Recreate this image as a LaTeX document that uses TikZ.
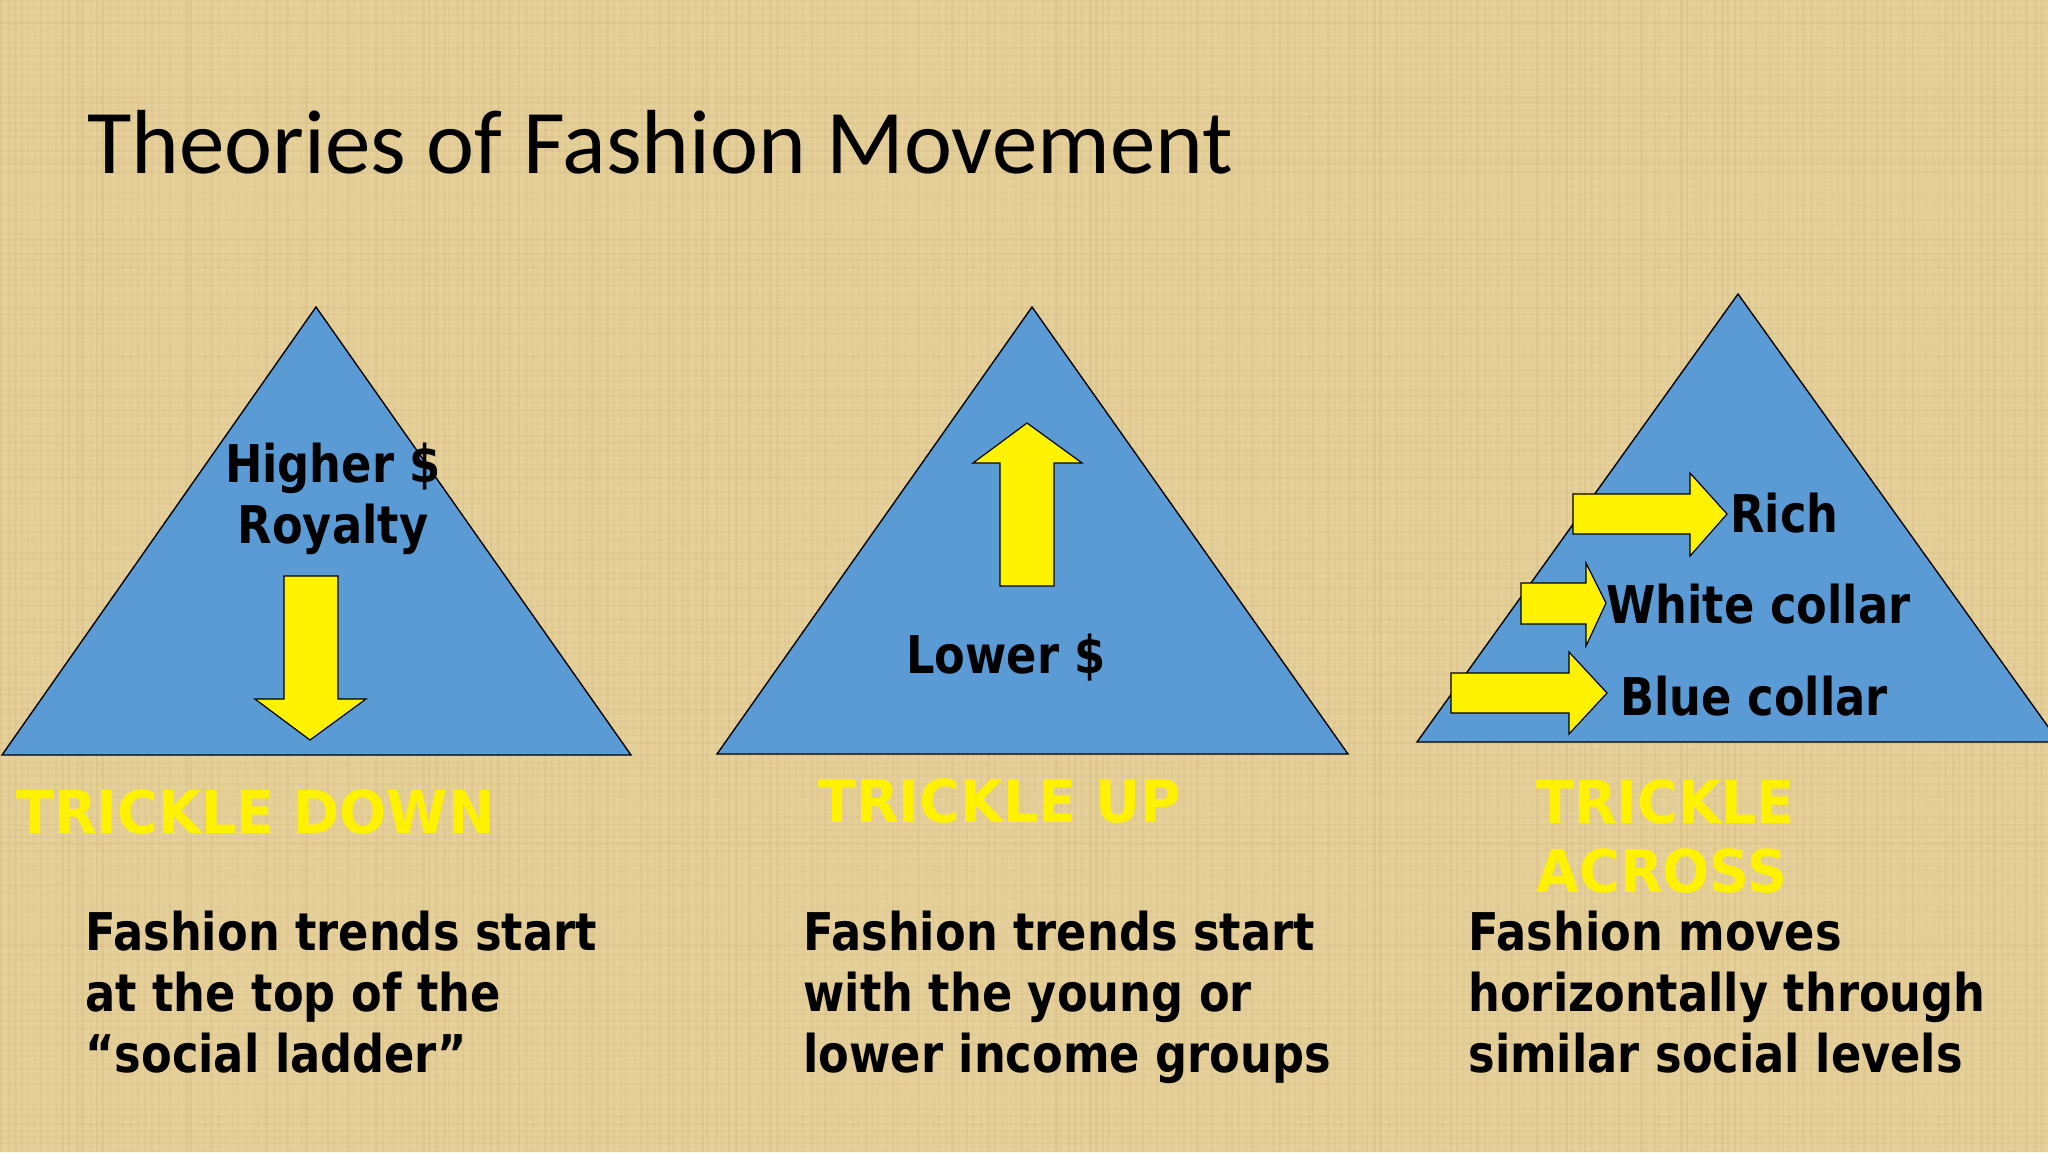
\documentclass[tikz,border=0pt]{standalone}
\usepackage{fontspec}
\setmainfont{Carlito}
\newfontfamily\boldsans[FakeStretch=0.86]{DejaVu Sans}
\newfontfamily\widesans[FakeStretch=0.94]{DejaVu Sans}
\usetikzlibrary{positioning}

\definecolor{parchment}{HTML}{E6D09A}
\definecolor{fibre}{HTML}{C4A868}
\definecolor{pyramid}{HTML}{5B9BD5}

\begin{document}
\begin{tikzpicture}[x=0.5pt, y=-0.5pt,
    tri/.style={fill=pyramid, draw=black, line width=0.7pt, line join=miter},
    blockarrow/.style={fill=yellow, draw=black, line width=0.6pt},
    level/.style={font=\boldsans\bfseries\fontsize{26pt}{30.5pt}\selectfont, inner sep=0pt},
    theory/.style={font=\widesans\bfseries\fontsize{29.5pt}{34.5pt}\selectfont, text=yellow, inner sep=0pt, align=left},
    body/.style={font=\boldsans\bfseries\fontsize{26pt}{30.5pt}\selectfont, inner sep=0pt, align=left}]
    \clip (0,0) rectangle (2048,1152);
    % background
    \fill[parchment] (0,0) rectangle (2048,1152);
    \pgfmathsetseed{7}
    \foreach \i in {0,...,300} {
        \pgfmathsetmacro\op{0.05+0.15*rnd}
        \draw[fibre, opacity=\op, line width=1.2pt] (\i*6.8+3*rnd,0) -- ++(0,1152);
    }
    \foreach \j in {0,...,170} {
        \pgfmathsetmacro\op{0.04+0.12*rnd}
        \draw[fibre, opacity=\op, line width=1.2pt] (0,\j*6.8+3*rnd) -- ++(2048,0);
    }

    \node[anchor=base west, inner sep=0pt, font=\fontsize{45.5pt}{50pt}\selectfont] (title) at (87,173) {Theories of Fashion Movement};

    % pyramids
    \draw[tri] (316,307) -- (631,755) -- (2,755) -- cycle;
    \draw[tri] (1032,307) -- (1348,754) -- (717,754) -- cycle;
    \draw[tri] (1738,294) -- (2059,742) -- (1417,742) -- cycle;

    % trickle down
    \node[level, align=center, anchor=base] (higher) at (333,543) {Higher \$\\Royalty};
    \draw[blockarrow] (284,576) -- (338,576) -- (338,699) -- (366,699) -- (310,740)
        -- (255,699) -- (284,699) -- cycle;

    % trickle up
    \draw[blockarrow] (1000,586) -- (1054,586) -- (1054,463) -- (1082,463) -- (1027,423)
        -- (973,463) -- (1000,463) -- cycle;
    \node[level, anchor=base west] (lower) at (906,673) {Lower \$};

    % trickle across
    \draw[blockarrow] (1573,494) -- (1690,494) -- (1690,473) -- (1727,514) -- (1690,556)
        -- (1690,534) -- (1573,534) -- cycle;
    \draw[blockarrow] (1521,583) -- (1586,583) -- (1586,563) -- (1606,603) -- (1586,646)
        -- (1586,624) -- (1521,624) -- cycle;
    \draw[blockarrow] (1451,673) -- (1569,673) -- (1569,652) -- (1607,693) -- (1569,734)
        -- (1569,713) -- (1451,713) -- cycle;
    \node[level, anchor=base west] (rich) at (1730,532) {Rich};
    \node[level, anchor=base west] (white) at (1606,623) {White collar};
    \node[level, anchor=base west] (blue) at (1620,715) {Blue collar};

    % theory names
    \node[theory, anchor=base west] (down) at (16,833) {TRICKLE DOWN};
    \node[theory, anchor=base west] (up) at (818,822) {TRICKLE UP};
    \node[theory, anchor=base west] (across) at (1536,892) {TRICKLE\\ACROSS};

    % descriptions
    \node[body, anchor=base west] (downtxt) at (85,1072) {Fashion trends start\\at the top of the\\“social ladder”};
    \node[body, anchor=base west] (uptxt) at (803,1072) {Fashion trends start\\with the young or\\lower income groups};
    \node[body, anchor=base west] (acrosstxt) at (1468,1072) {Fashion moves\\horizontally through\\similar social levels};
\end{tikzpicture}
\end{document}
